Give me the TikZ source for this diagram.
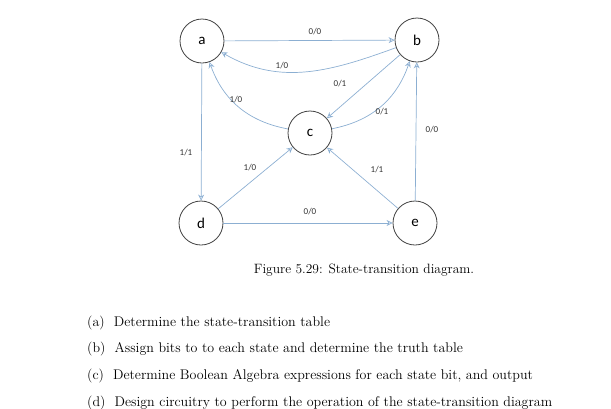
\documentclass[tikz,border=0pt]{standalone}
\usepackage{fontspec}
\newfontfamily\nodefont{Carlito}
\usetikzlibrary{arrows.meta}
\definecolor{edgeblue}{RGB}{140,175,210}
\begin{document}
\begin{tikzpicture}[x=1pt,y=-1pt,
  st/.style={circle,draw=black!75,line width=0.8pt,minimum size=44pt,inner sep=0pt,font=\nodefont\fontsize{15}{15}\selectfont},
  tr/.style={draw=edgeblue,line width=0.7pt,-{Stealth[open,length=6pt,width=6pt]}},
  lb/.style={font=\nodefont\fontsize{9}{9}\selectfont,text=black!80,inner sep=1pt},
  tx/.style={font=\fontsize{14}{15}\selectfont,anchor=west,inner sep=0pt}]
\useasboundingbox (0,0) rectangle (611,408);
\node[st] (a) at (202,41) {a};
\node[st] (b) at (417,40) {b};
\node[st] (c) at (310,133) {c};
\node[st] (d) at (201,223) {d};
\node[st] (e) at (415,223) {e};
\draw[tr] (a) -- (b);
\draw[tr] (b) to[out=200,in=-30] (a);
\draw[tr] (b) -- (c);
\draw[tr] (c) to[bend right=30] (b);
\draw[tr] (c) to[bend left=30] (a);
\draw[tr] (a) -- (d);
\draw[tr] (d) -- (c);
\draw[tr] (e) -- (c);
\draw[tr] (d) -- (e);
\draw[tr] (e) -- (b);
\node[lb] (l1) at (315,32) {0/0};
\node[lb] (l2) at (282,66) {1/0};
\node[lb] (l3) at (340,84) {0/1};
\node[lb] (l4) at (382,112) {0/1};
\node[lb] (l5) at (236,100) {1/0};
\node[lb] (l6) at (186,153) {1/1};
\node[lb] (l7) at (250,168) {1/0};
\node[lb] (l8) at (377,170) {1/1};
\node[lb] (l9) at (310,212) {0/0};
\node[lb] (l10) at (432,130) {0/0};
\node[font=\fontsize{13.5}{15}\selectfont] (cap) at (364,270) {Figure 5.29: State-transition diagram.};
\node[tx] (ia) at (87,323) {(a)\ \ Determine the state-transition table};
\node[tx] (ib) at (87,349) {(b)\ \ Assign bits to to each state and determine the truth table};
\node[tx] (ic) at (87,376) {(c)\ \ Determine Boolean Algebra expressions for each state bit, and output};
\node[tx] (id) at (87,403) {(d)\ \ Design circuitry to perform the operation of the state-transition diagram};
\end{tikzpicture}
\end{document}
